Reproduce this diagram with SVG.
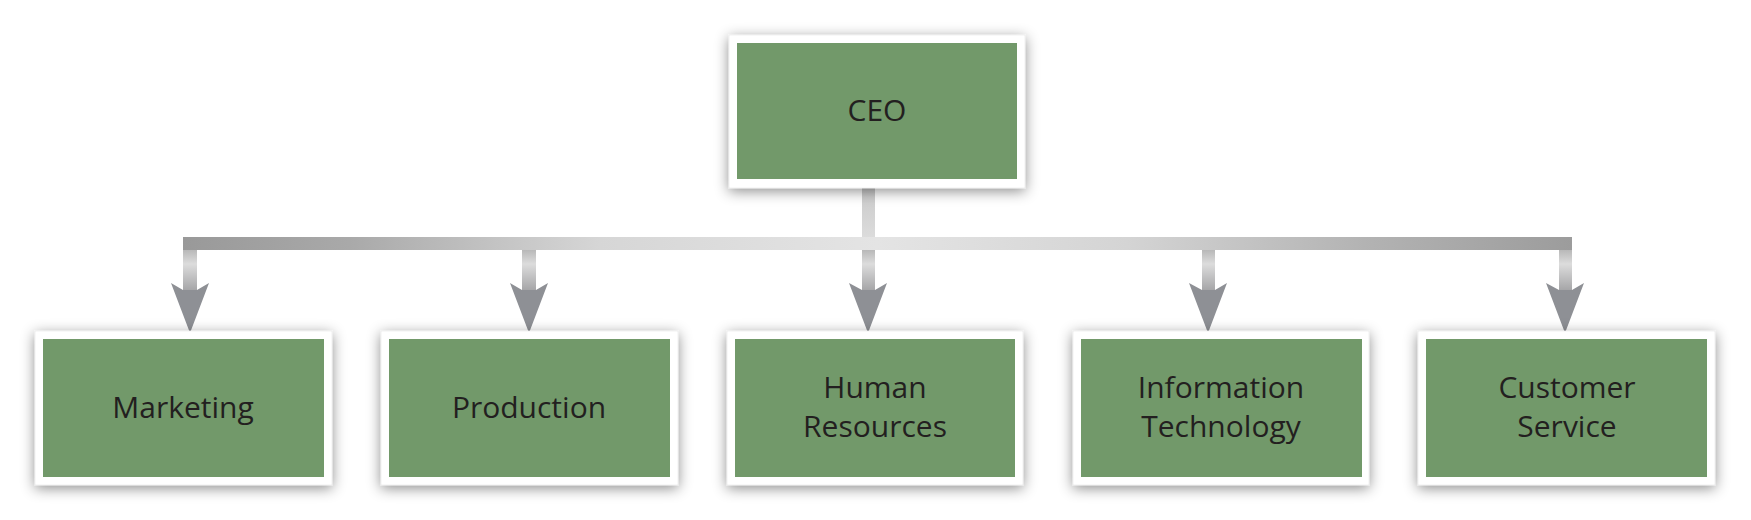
<svg xmlns="http://www.w3.org/2000/svg" width="1751" height="520" viewBox="0 0 1751 520">
<defs>
<style>
.frame{fill:#ffffff;stroke:#e6e6e6;stroke-width:0.6;filter:url(#sh)}
.fill{fill:#72996a}
.lbl{font-family:"Open Sans","Liberation Sans",sans-serif;font-size:30px;fill:#231f20;text-anchor:middle}
.head{fill:#8e9095}
.stem{fill:url(#gStem)}
</style>
<filter id="sh" x="-10%" y="-20%" width="120%" height="140%">
<feDropShadow dx="0" dy="3" stdDeviation="7" flood-color="#000" flood-opacity="0.45"/>
</filter>
<linearGradient id="gBar" x1="183" y1="0" x2="1572" y2="0" gradientUnits="userSpaceOnUse">
<stop offset="0" stop-color="#999999"/>
<stop offset="0.12" stop-color="#a9a9a9"/>
<stop offset="0.3" stop-color="#d6d6d6"/>
<stop offset="0.5" stop-color="#e4e4e4"/>
<stop offset="0.68" stop-color="#d4d4d4"/>
<stop offset="0.85" stop-color="#b3b3b3"/>
<stop offset="1" stop-color="#9c9c9c"/>
</linearGradient>
<linearGradient id="gStem" x1="0" y1="0" x2="0" y2="1">
<stop offset="0" stop-color="#b8b8b8"/>
<stop offset="0.35" stop-color="#dcdcdc"/>
<stop offset="1" stop-color="#a6a6a8"/>
</linearGradient>
<linearGradient id="gCeo" x1="0" y1="0" x2="0" y2="1">
<stop offset="0" stop-color="#c9c9c9"/>
<stop offset="1" stop-color="#dcdcdc"/>
</linearGradient>
</defs>
<rect width="1751" height="520" fill="#ffffff"/>
<g id="connectors">
<rect x="862" y="188" width="13" height="50" fill="url(#gCeo)"/>
<rect x="183" y="237" width="1389" height="13" fill="url(#gBar)"/>
<rect class="stem" x="183" y="250" width="14" height="40"/>
<polygon class="head" points="183,290 171,283 190,333 209,283 197,290"/>
<rect class="stem" x="522" y="250" width="14" height="40"/>
<polygon class="head" points="522,290 510,283 529,333 548,283 536,290"/>
<rect class="stem" x="862" y="250" width="13" height="40"/>
<polygon class="head" points="862,290 849,283 868,333 887,283 875,290"/>
<rect class="stem" x="1202" y="250" width="13" height="40"/>
<polygon class="head" points="1202,290 1189,283 1208,333 1227,283 1215,290"/>
<rect class="stem" x="1559" y="250" width="13" height="40"/>
<polygon class="head" points="1559,290 1546,283 1565,333 1584,283 1572,290"/>
</g>
<g id="ceo">
<rect class="frame" x="729" y="35" width="296" height="153"/>
<rect class="fill" x="737" y="43" width="280" height="136"/>
<text class="lbl" x="877" y="121">CEO</text>
</g>
<g id="marketing">
<rect class="frame" x="35" y="331" width="297" height="154"/>
<rect class="fill" x="43" y="339" width="281" height="138"/>
<text class="lbl" x="183" y="418">Marketing</text>
</g>
<g id="production">
<rect class="frame" x="381" y="331" width="297" height="154"/>
<rect class="fill" x="389" y="339" width="281" height="138"/>
<text class="lbl" x="529" y="418">Production</text>
</g>
<g id="human-resources">
<rect class="frame" x="727" y="331" width="296" height="154"/>
<rect class="fill" x="735" y="339" width="280" height="138"/>
<text class="lbl" x="875" y="398">Human</text>
<text class="lbl" x="875" y="437">Resources</text>
</g>
<g id="information-technology">
<rect class="frame" x="1073" y="331" width="296" height="154"/>
<rect class="fill" x="1081" y="339" width="281" height="138"/>
<text class="lbl" x="1221" y="398">Information</text>
<text class="lbl" x="1221" y="437">Technology</text>
</g>
<g id="customer-service">
<rect class="frame" x="1418" y="331" width="297" height="154"/>
<rect class="fill" x="1426" y="339" width="281" height="138"/>
<text class="lbl" x="1567" y="398">Customer</text>
<text class="lbl" x="1567" y="437">Service</text>
</g>
</svg>
